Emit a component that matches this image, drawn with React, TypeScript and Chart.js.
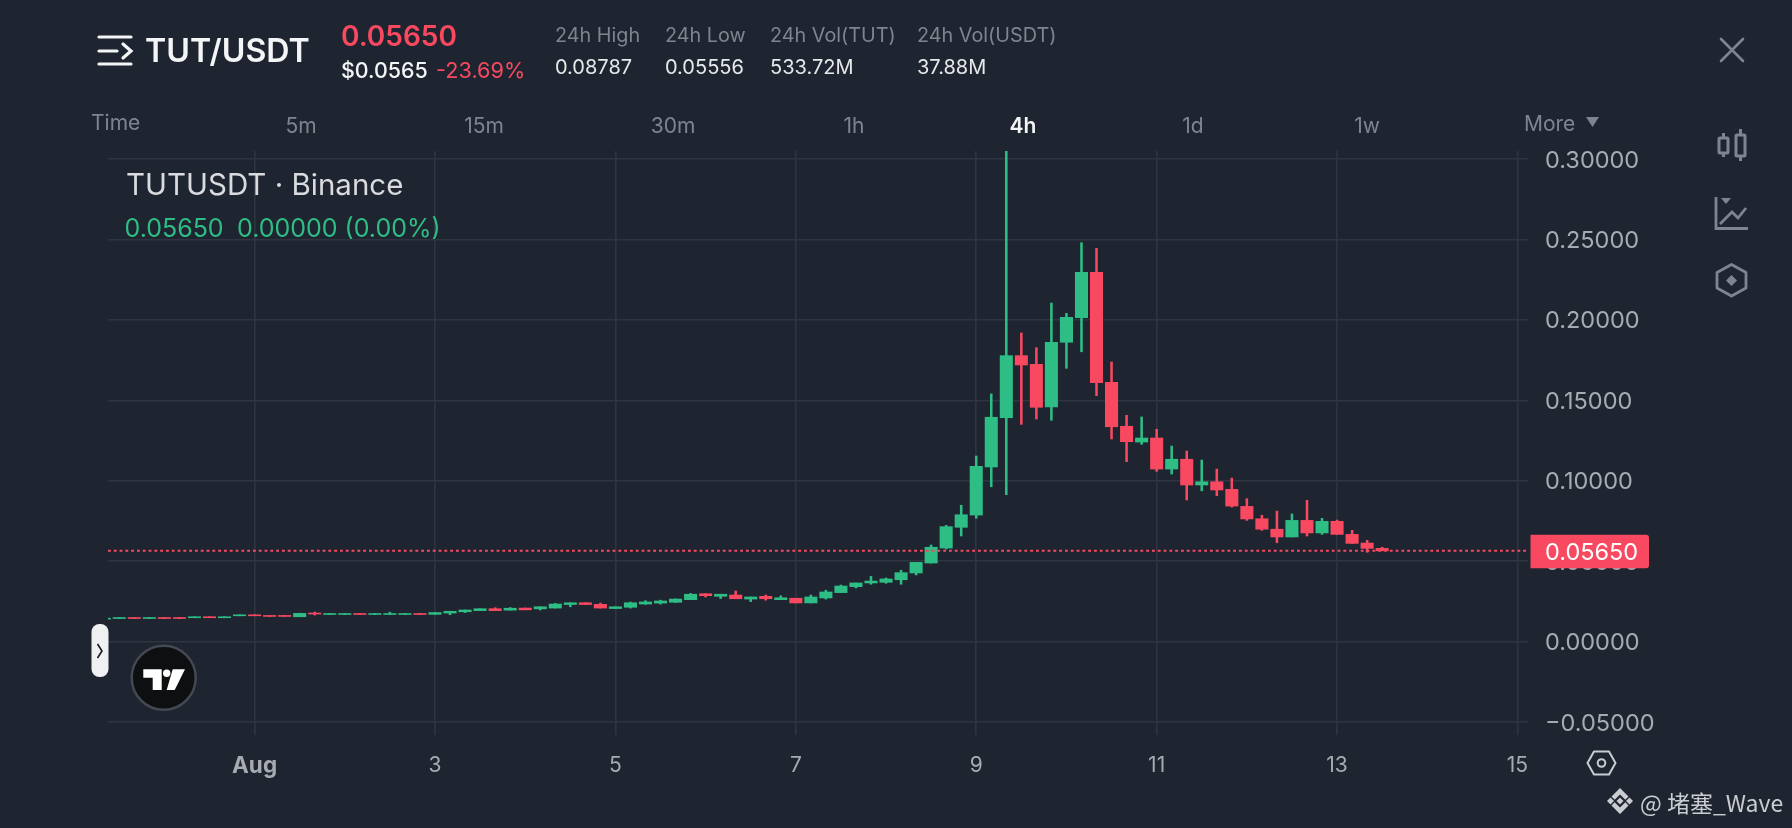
import React, { useEffect, useRef } from "react";
import { Chart, registerables } from "chart.js";

Chart.register(...registerables);

const firstIndex = -10;
const opens = [
  0.014, 0.0144, 0.015, 0.0144, 0.015, 0.015, 0.0149, 0.0155, 0.0149, 0.0161,
  0.0167, 0.0163, 0.0163, 0.0155, 0.0178, 0.0169, 0.0169, 0.0175, 0.0169, 0.0169,
  0.0169, 0.0175, 0.017, 0.0178, 0.0186, 0.0193, 0.0205, 0.0196, 0.0209, 0.0204,
  0.0209, 0.0231, 0.0242, 0.0232, 0.0206, 0.0214, 0.0234, 0.024, 0.0245, 0.0261,
  0.0298, 0.0282, 0.029, 0.0265, 0.0282, 0.0261, 0.027, 0.0241, 0.0272, 0.0305,
  0.0342, 0.0365, 0.0369, 0.0385, 0.0427, 0.0489, 0.0582, 0.0711, 0.0787, 0.1086,
  0.1392, 0.1778, 0.1724, 0.146, 0.1861, 0.2014, 0.2296, 0.1612, 0.1339, 0.1241,
  0.1266, 0.1073, 0.1134, 0.0974, 0.0994, 0.0947, 0.0841, 0.0764, 0.0699, 0.0651,
  0.0754, 0.0676, 0.0748, 0.0667, 0.0613, 0.058,
];
const closes = [
  0.0146, 0.015, 0.0144, 0.015, 0.0144, 0.0144, 0.0155, 0.0149, 0.0155, 0.0167,
  0.0161, 0.0157, 0.0157, 0.0176, 0.0172, 0.0175, 0.0175, 0.0169, 0.0175, 0.0175,
  0.0175, 0.0169, 0.0181, 0.0189, 0.0197, 0.0205, 0.0193, 0.0208, 0.0198, 0.0217,
  0.0234, 0.0242, 0.0231, 0.0209, 0.0217, 0.0242, 0.0247, 0.0253, 0.0265, 0.0295,
  0.0286, 0.0295, 0.0267, 0.0278, 0.0267, 0.0273, 0.0241, 0.0278, 0.0309, 0.0346,
  0.0365, 0.0377, 0.039, 0.0429, 0.0493, 0.0587, 0.0715, 0.0789, 0.109, 0.1395,
  0.1778, 0.172, 0.1457, 0.1861, 0.2016, 0.2296, 0.161, 0.1336, 0.1243, 0.1266,
  0.1073, 0.1134, 0.0974, 0.0994, 0.0943, 0.0843, 0.0763, 0.0699, 0.0651, 0.0754,
  0.0676, 0.0748, 0.0667, 0.0611, 0.058, 0.0565,
];
const highs = [
  0.0147, 0.015, 0.015, 0.015, 0.015, 0.015, 0.0155, 0.0155, 0.0155, 0.0167,
  0.0167, 0.0163, 0.0163, 0.0177, 0.0184, 0.0175, 0.0175, 0.0175, 0.0175, 0.0183,
  0.0175, 0.0175, 0.0181, 0.0189, 0.0197, 0.0205, 0.0211, 0.0212, 0.0209, 0.0217,
  0.0238, 0.0242, 0.0242, 0.024, 0.0217, 0.0246, 0.0255, 0.0258, 0.0266, 0.03,
  0.0298, 0.0295, 0.0315, 0.0278, 0.029, 0.0285, 0.027, 0.029, 0.032, 0.0352,
  0.0365, 0.0406, 0.0396, 0.0444, 0.0493, 0.0601, 0.0723, 0.0848, 0.1154, 0.154,
  0.33, 0.1919, 0.1827, 0.2105, 0.2041, 0.248, 0.2445, 0.1738, 0.1407, 0.1397,
  0.132, 0.1216, 0.1185, 0.1129, 0.1073, 0.1017, 0.0889, 0.0786, 0.0812, 0.0794,
  0.0879, 0.0767, 0.0756, 0.0692, 0.063, 0.0587,
];
const lows = [
  0.0139, 0.0144, 0.0144, 0.0144, 0.0144, 0.0144, 0.0149, 0.0149, 0.0149, 0.0161,
  0.0161, 0.0157, 0.0157, 0.0155, 0.0166, 0.0169, 0.0169, 0.0169, 0.0169, 0.0169,
  0.0169, 0.0169, 0.017, 0.0168, 0.0181, 0.0193, 0.0193, 0.0196, 0.0198, 0.0197,
  0.0209, 0.0217, 0.0231, 0.0209, 0.0206, 0.0209, 0.0232, 0.0234, 0.0244, 0.0261,
  0.0278, 0.0268, 0.0267, 0.0249, 0.0258, 0.0261, 0.0241, 0.0241, 0.0265, 0.0305,
  0.0334, 0.0357, 0.0363, 0.0357, 0.0415, 0.0489, 0.0576, 0.0657, 0.0767, 0.0963,
  0.0914, 0.1351, 0.1384, 0.1376, 0.1699, 0.1802, 0.1529, 0.126, 0.1119, 0.1227,
  0.1059, 0.1042, 0.0881, 0.0938, 0.0907, 0.0837, 0.0754, 0.0692, 0.0615, 0.0651,
  0.0657, 0.0667, 0.0667, 0.0611, 0.0556, 0.0565,
];

const lastPrice = 0.0565;
const lastPriceLabel = "0.05650";
const yTickValues = [-0.05, 0, 0.05, 0.1, 0.15, 0.2, 0.25, 0.3];
const xTickValues = [0, 12, 24, 36, 48, 60, 72, 84];
const xTickLabels = ["Aug", "3", "5", "7", "9", "11", "13", "15"];
const timeframes: [string, number, boolean][] = [
  ["5m", 301, false],
  ["15m", 484, false],
  ["30m", 673, false],
  ["1h", 854, false],
  ["4h", 1023, true],
  ["1d", 1193, false],
  ["1w", 1367, false],
];
const stats: [string, string, number][] = [
  ["24h High", "0.08787", 555],
  ["24h Low", "0.05556", 665],
  ["24h Vol(TUT)", "533.72M", 770],
  ["24h Vol(USDT)", "37.88M", 917],
];

const BG = "#1F2530";
const GREEN = "#2EBD85";
const RED = "#F84960";
const GRID = "#2F3540";
const AXIS_TEXT = "#A7ABB1";
const MUTED = "#7F8590";
const FONT = "Inter, 'Noto Sans', sans-serif";

const Text = ({ x, y, size, color, weight = 400, center = false, children }: any) => (
  <div
    style={{
      position: "absolute",
      left: x,
      top: y,
      transform: center ? "translate(-50%,-50%)" : "translateY(-50%)",
      fontFamily: FONT,
      fontSize: size,
      color,
      fontWeight: weight,
      whiteSpace: "nowrap",
      lineHeight: 1,
    }}
  >
    {children}
  </div>
);

export default function App() {
  const ref = useRef<HTMLCanvasElement>(null);
  useEffect(() => {
    const xs = opens.map((_, i) => i + firstIndex);
    const colors = opens.map((o, i) => (closes[i] >= o ? GREEN : RED));
    const priceTag = {
      id: "priceTag",
      afterDraw(chart: any) {
        const { ctx, scales } = chart;
        const y = scales.y.getPixelForValue(lastPrice);
        const left = chart.chartArea.right + 2.5;
        ctx.save();
        ctx.fillStyle = RED;
        ctx.beginPath();
        ctx.roundRect(left, y - 16, 118.5, 33.5, [0, 3, 3, 0]);
        ctx.fill();
        ctx.fillStyle = "#FFFFFF";
        ctx.font = `400 23.5px ${FONT}`;
        ctx.textBaseline = "middle";
        ctx.textAlign = "left";
        ctx.fillText(lastPriceLabel, chart.chartArea.right + 17, y + 2.5);
        ctx.restore();
      },
    };
    const chart = new Chart(ref.current as HTMLCanvasElement, {
      type: "bar",
      data: {
        datasets: [
          {
            type: "line",
            data: [
              { x: -9.75, y: lastPrice },
              { x: 84.7, y: lastPrice },
            ],
            borderColor: RED,
            borderWidth: 2,
            borderDash: [2.8, 3],
            pointRadius: 0,
            order: 0,
          },
          {
            data: xs.map((x, i) => ({ x, y: [opens[i], closes[i]] })),
            backgroundColor: colors,
            barThickness: 12.4,
            grouped: false,
            order: 1,
          },
          {
            data: xs.map((x, i) => ({ x, y: [lows[i], highs[i]] })),
            backgroundColor: colors,
            barThickness: 1.9,
            grouped: false,
            order: 2,
          },
        ] as any,
      },
      options: {
        animation: false,
        responsive: false,
        devicePixelRatio: 1,
        layout: { padding: { left: 108, top: 151, right: 0, bottom: 0 } },
        plugins: { legend: { display: false }, tooltip: { enabled: false } },
        scales: {
          x: {
            type: "linear",
            min: -9.75,
            max: 84.7,
            offset: false,
            border: { display: false },
            grid: { color: GRID, lineWidth: 1.6, drawTicks: false, offset: false },
            afterBuildTicks: (s: any) => {
              s.ticks = xTickValues.map((value) => ({ value }));
            },
            afterFit: (s: any) => {
              s.height = 93;
            },
            ticks: {
              autoSkip: false,
              maxRotation: 0,
              padding: 18,
              color: AXIS_TEXT,
              font: (c: any) => ({
                family: FONT,
                size: c.index === 0 ? 22.5 : 21,
                weight: c.index === 0 ? 700 : 400,
              }),
              callback: (_: any, i: number) => xTickLabels[i],
            },
          },
          y: {
            position: "right",
            min: -0.058,
            max: 0.305,
            border: { display: false },
            grid: { color: GRID, lineWidth: 1.6, drawTicks: false },
            afterBuildTicks: (s: any) => {
              s.ticks = yTickValues.map((value) => ({ value }));
            },
            afterFit: (s: any) => {
              s.width = 264;
            },
            ticks: {
              autoSkip: false,
              padding: 17,
              crossAlign: "near",
              labelOffset: 1.5,
              color: AXIS_TEXT,
              font: { family: FONT, size: 23.5 },
              callback: (v: any) =>
                (v < 0 ? "\u2212" : "") + Math.abs(Number(v)).toFixed(5),
            },
          },
        },
      } as any,
      plugins: [priceTag],
    });
    return () => chart.destroy();
  }, []);

  return (
    <div style={{ position: "fixed", inset: 0, width: 1792, height: 828, background: BG, overflow: "hidden" }}>
      <canvas ref={ref} width={1792} height={828} style={{ position: "absolute", left: 0, top: 0, width: 1792, height: 828 }} />

      <Text x={145} y={51} size={32.2} color="#F4F5F6" weight={600}>TUT/USDT</Text>
      <Text x={341} y={35.5} size={28} color={RED} weight={600}>0.05650</Text>
      <Text x={341} y={71} size={21.4} color="#F4F5F6" weight={500}>$0.0565</Text>
      <Text x={436} y={71} size={21.7} color={RED}>-23.69%</Text>
      {stats.map(([label, value, x]) => (
        <React.Fragment key={label}>
          <Text x={x} y={36} size={19.8} color={MUTED}>{label}</Text>
          <Text x={x} y={67} size={20} color="#E6E8EA">{value}</Text>
        </React.Fragment>
      ))}

      <Text x={91} y={122} size={21} color={MUTED}>Time</Text>
      {timeframes.map(([label, x, active]) => (
        <Text key={label} x={x} y={125} size={21} center color={active ? "#F4F5F6" : MUTED} weight={active ? 600 : 400}>
          {label}
        </Text>
      ))}
      <Text x={1524} y={122.5} size={21} color={MUTED}>More</Text>

      <Text x={126} y={185} size={29.5} color="#D9DBDE">TUTUSDT · Binance</Text>
      <Text x={124.5} y={228} size={25} color={GREEN}>0.05650</Text>
      <Text x={237} y={228} size={25} color={GREEN}>0.00000 (0.00%)</Text>

      <div style={{ position: "absolute", left: 1640, top: 802, transform: "translateY(-50%)", fontFamily: "'Noto Sans CJK SC', Inter, sans-serif", fontSize: 23, color: "#C9CCD0", whiteSpace: "nowrap", lineHeight: 1 }}>
        @ 堵塞_Wave
      </div>

      <svg viewBox="0 0 1792 828" width={1792} height={828} style={{ position: "absolute", left: 0, top: 0, pointerEvents: "none" }}>
        <g stroke="#F4F5F6" strokeWidth={3.2} strokeLinecap="round" fill="none">
          <path d="M99 37H131M99 51H117M99 64H131M123 44L131 51L123 58" />
        </g>
        <path d="M1586 117H1599L1592.5 127Z" fill={MUTED} />
        <path d="M1721 39L1743 61M1743 39L1721 61" stroke={MUTED} strokeWidth={2.6} strokeLinecap="round" />
        <g stroke={MUTED} strokeWidth={3} fill="none" strokeLinejoin="round">
          <rect x={1719} y={138} width={9} height={15} rx={1} />
          <path d="M1723.5 133V138M1723.5 153V157" />
          <rect x={1736} y={135} width={9} height={21} rx={1} />
          <path d="M1740.5 129V135M1740.5 156V161" />
        </g>
        <g stroke={MUTED} strokeWidth={2.8} fill="none">
          <path d="M1716 197V228.5H1748" />
          <path d="M1720 224L1732 212L1738 218L1746 208" />
        </g>
        <path d="M1721 198H1731L1726 204Z" fill={MUTED} />
        <path d="M1731.5 264.5L1746 272.5V288L1731.5 296L1717 288V272.5Z" stroke={MUTED} strokeWidth={2.8} fill="none" strokeLinejoin="round" />
        <path d="M1731.5 275L1737 280.5L1731.5 286L1726 280.5Z" fill={MUTED} />
        <path d="M1594 751.5H1609L1615.5 763L1609 774.5H1594L1587.5 763Z" stroke="#C9CCD0" strokeWidth={2} fill="none" strokeLinejoin="round" />
        <circle cx={1601.5} cy={763} r={3.8} stroke="#C9CCD0" strokeWidth={2} fill="none" />
        <rect x={91.5} y={624} width={17} height={53} rx={8} fill="#EEF0F2" />
        <path d="M97.5 644L102 651L97.5 658" stroke="#15181D" strokeWidth={1.6} fill="none" />
        <circle cx={163.7} cy={677.7} r={32} fill="#0E0F11" stroke="#434852" strokeWidth={2.5} />
        <g fill="#FFFFFF">
          <path d="M143.3 669.3H161.7V690H152.7V677.7H143.3Z" />
          <circle cx={166.7} cy={673.3} r={3.7} />
          <path d="M172.7 669.3H185L174.7 690H166.7Z" />
        </g>
        <g fill="#C9CCD0">
          <path d="M1620 788L1628.5 796.5L1625.3 799.7L1620 794.4L1614.7 799.7L1611.5 796.5Z" />
          <path d="M1620 814L1611.5 805.5L1614.7 802.3L1620 807.6L1625.3 802.3L1628.5 805.5Z" />
          <path d="M1610.5 797.5L1614 801L1610.5 804.5L1607 801Z" />
          <path d="M1629.5 797.5L1633 801L1629.5 804.5L1626 801Z" />
          <path d="M1620 797.5L1623.5 801L1620 804.5L1616.5 801Z" />
        </g>
      </svg>
    </div>
  );
}
